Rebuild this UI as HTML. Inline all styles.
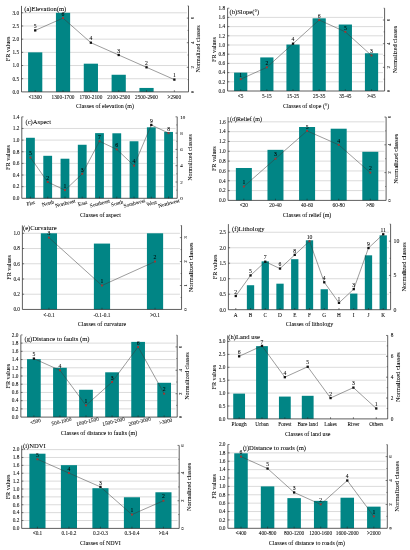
<!DOCTYPE html>
<html lang="en"><head><meta charset="utf-8"><title>FR values and normalized classes</title>
<style>
html,body{margin:0;padding:0;background:#fff;}
body{width:410px;height:550px;overflow:hidden;}
svg{display:block;filter:blur(0.35px);}
svg text{font-family:"Liberation Serif","Times New Roman",serif;fill:#000;stroke:#000;stroke-width:0.05px;}
</style></head><body>
<svg width="410" height="550" viewBox="0 0 410 550">
<rect width="410" height="550" fill="#fff"/>
<g id="chart-a">
<path d="M21.5 78.72H186.9M21.5 65.53H186.9M21.5 52.35H186.9M21.5 39.16H186.9M21.5 25.98H186.9M21.5 12.79H186.9" stroke="#c8c8c8" stroke-width="0.65" fill="none"/>
<rect x="28.1" y="52.35" width="14.2" height="39.55" fill="#018585"/>
<rect x="55.93" y="12.79" width="14.2" height="79.11" fill="#018585"/>
<rect x="83.77" y="63.68" width="14.2" height="28.22" fill="#018585"/>
<rect x="111.6" y="74.76" width="14.2" height="17.14" fill="#018585"/>
<rect x="139.43" y="87.94" width="14.2" height="3.96" fill="#018585"/>
<path d="M21.5 5.9V91.9H188.5V5.9" fill="none" stroke="#2a2a2a" stroke-width="0.75"/>
<text x="19.1" y="93.7" text-anchor="end" font-size="5.3">0.0</text>
<text x="19.1" y="80.52" text-anchor="end" font-size="5.3">0.5</text>
<text x="19.1" y="67.33" text-anchor="end" font-size="5.3">1.0</text>
<text x="19.1" y="54.15" text-anchor="end" font-size="5.3">1.5</text>
<text x="19.1" y="40.96" text-anchor="end" font-size="5.3">2.0</text>
<text x="19.1" y="27.78" text-anchor="end" font-size="5.3">2.5</text>
<text x="19.1" y="14.59" text-anchor="end" font-size="5.3">3.0</text>
<text transform="translate(193.6 91.9) rotate(-90)" text-anchor="middle" font-size="5.0">0</text>
<text transform="translate(193.6 67.3) rotate(-90)" text-anchor="middle" font-size="5.0">2</text>
<text transform="translate(193.6 42.7) rotate(-90)" text-anchor="middle" font-size="5.0">4</text>
<text transform="translate(193.6 18.1) rotate(-90)" text-anchor="middle" font-size="5.0">6</text>
<text x="35.2" y="98.5" text-anchor="middle" font-size="5.3">&lt;1300</text>
<text x="63.03" y="98.5" text-anchor="middle" font-size="5.3">1300-1700</text>
<text x="90.87" y="98.5" text-anchor="middle" font-size="5.3">1700-2100</text>
<text x="118.7" y="98.5" text-anchor="middle" font-size="5.3">2100-2500</text>
<text x="146.53" y="98.5" text-anchor="middle" font-size="5.3">2500-2900</text>
<text x="174.37" y="98.5" text-anchor="middle" font-size="5.3">&gt;2900</text>
<path d="M21.5 78.72h1.7M21.5 65.53h1.7M21.5 52.35h1.7M21.5 39.16h1.7M21.5 25.98h1.7M21.5 12.79h1.7M188.5 67.3h-1.7M188.5 42.7h-1.7M188.5 18.1h-1.7M35.2 91.9v-1.7M63.03 91.9v-1.7M90.87 91.9v-1.7M118.7 91.9v-1.7M146.53 91.9v-1.7M174.37 91.9v-1.7" stroke="#2a2a2a" stroke-width="0.6" fill="none"/>
<path d="M188.5 79.6h-1M188.5 55h-1M188.5 30.4h-1M188.5 5.8h-1" stroke="#2a2a2a" stroke-width="0.5" fill="none"/>
<polyline points="35.2,30.4 63.03,18.1 90.87,42.7 118.7,55 146.53,67.3 174.37,79.6" fill="none" stroke="#3a3a3a" stroke-width="0.5"/>
<rect x="34.05" y="29.25" width="2.3" height="2.3" fill="#111"/>
<text x="35.2" y="28.1" text-anchor="middle" font-size="5.7">5</text>
<rect x="62.08" y="17.15" width="1.9" height="1.9" fill="#a23632"/>
<text x="63.03" y="15.8" text-anchor="middle" font-size="5.7">6</text>
<rect x="89.72" y="41.55" width="2.3" height="2.3" fill="#111"/>
<text x="90.87" y="40.4" text-anchor="middle" font-size="5.7">4</text>
<rect x="117.55" y="53.85" width="2.3" height="2.3" fill="#111"/>
<text x="118.7" y="52.7" text-anchor="middle" font-size="5.7">3</text>
<rect x="145.38" y="66.15" width="2.3" height="2.3" fill="#111"/>
<text x="146.53" y="65" text-anchor="middle" font-size="5.7">2</text>
<rect x="173.22" y="78.45" width="2.3" height="2.3" fill="#111"/>
<text x="174.37" y="77.3" text-anchor="middle" font-size="5.7">1</text>
<text x="24.2" y="11" font-size="6.6">(a)Elevation(m)</text>
<text x="105" y="108.3" text-anchor="middle" font-size="5.98">Classes of elevation (m)</text>
<text transform="translate(9.5 48.9) rotate(-90)" text-anchor="middle" font-size="6.15">FR values</text>
<text transform="translate(200.1 48.9) rotate(-90)" text-anchor="middle" font-size="6.1">Normalized classes</text>
</g>
<g id="chart-b">
<path d="M227.6 81.8H383M227.6 72.6H383M227.6 63.4H383M227.6 54.2H383M227.6 45H383M227.6 35.8H383M227.6 26.6H383M227.6 17.4H383" stroke="#c8c8c8" stroke-width="0.65" fill="none"/>
<rect x="234.08" y="72.6" width="13.2" height="18.4" fill="#018585"/>
<rect x="260.25" y="57.42" width="13.2" height="33.58" fill="#018585"/>
<rect x="286.42" y="44.54" width="13.2" height="46.46" fill="#018585"/>
<rect x="312.58" y="18.32" width="13.2" height="72.68" fill="#018585"/>
<rect x="338.75" y="24.53" width="13.2" height="66.47" fill="#018585"/>
<rect x="364.92" y="53.28" width="13.2" height="37.72" fill="#018585"/>
<path d="M227.6 8.2V91H384.6V8.2" fill="none" stroke="#2a2a2a" stroke-width="0.75"/>
<text x="225.2" y="92.8" text-anchor="end" font-size="5.3">0.0</text>
<text x="225.2" y="83.6" text-anchor="end" font-size="5.3">0.2</text>
<text x="225.2" y="74.4" text-anchor="end" font-size="5.3">0.4</text>
<text x="225.2" y="65.2" text-anchor="end" font-size="5.3">0.6</text>
<text x="225.2" y="56" text-anchor="end" font-size="5.3">0.8</text>
<text x="225.2" y="46.8" text-anchor="end" font-size="5.3">1.0</text>
<text x="225.2" y="37.6" text-anchor="end" font-size="5.3">1.2</text>
<text x="225.2" y="28.4" text-anchor="end" font-size="5.3">1.4</text>
<text x="225.2" y="19.2" text-anchor="end" font-size="5.3">1.6</text>
<text x="225.2" y="10" text-anchor="end" font-size="5.3">1.8</text>
<text transform="translate(389.7 91) rotate(-90)" text-anchor="middle" font-size="5.0">0</text>
<text transform="translate(389.7 67.34) rotate(-90)" text-anchor="middle" font-size="5.0">2</text>
<text transform="translate(389.7 43.68) rotate(-90)" text-anchor="middle" font-size="5.0">4</text>
<text transform="translate(389.7 20.02) rotate(-90)" text-anchor="middle" font-size="5.0">6</text>
<text x="240.68" y="97.7" text-anchor="middle" font-size="5.3">&lt;5</text>
<text x="266.85" y="97.7" text-anchor="middle" font-size="5.3">5-15</text>
<text x="293.02" y="97.7" text-anchor="middle" font-size="5.3">15-25</text>
<text x="319.18" y="97.7" text-anchor="middle" font-size="5.3">25-35</text>
<text x="345.35" y="97.7" text-anchor="middle" font-size="5.3">35-45</text>
<text x="371.52" y="97.7" text-anchor="middle" font-size="5.3">&gt;45</text>
<path d="M227.6 81.8h1.7M227.6 72.6h1.7M227.6 63.4h1.7M227.6 54.2h1.7M227.6 45h1.7M227.6 35.8h1.7M227.6 26.6h1.7M227.6 17.4h1.7M227.6 8.2h1.7M384.6 67.34h-1.7M384.6 43.68h-1.7M384.6 20.02h-1.7M240.68 91v-1.7M266.85 91v-1.7M293.02 91v-1.7M319.18 91v-1.7M345.35 91v-1.7M371.52 91v-1.7" stroke="#2a2a2a" stroke-width="0.6" fill="none"/>
<path d="M384.6 79.17h-1M384.6 55.51h-1M384.6 31.85h-1M384.6 8.19h-1" stroke="#2a2a2a" stroke-width="0.5" fill="none"/>
<polyline points="240.68,79.17 266.85,67.34 293.02,43.68 319.18,20.02 345.35,31.85 371.52,55.51" fill="none" stroke="#3a3a3a" stroke-width="0.5"/>
<rect x="239.73" y="78.22" width="1.9" height="1.9" fill="#a23632"/>
<text x="240.68" y="76.87" text-anchor="middle" font-size="5.7">1</text>
<rect x="265.9" y="66.39" width="1.9" height="1.9" fill="#a23632"/>
<text x="266.85" y="65.04" text-anchor="middle" font-size="5.7">2</text>
<rect x="291.87" y="42.53" width="2.3" height="2.3" fill="#111"/>
<text x="293.02" y="41.38" text-anchor="middle" font-size="5.7">4</text>
<rect x="318.23" y="19.07" width="1.9" height="1.9" fill="#a23632"/>
<text x="319.18" y="17.72" text-anchor="middle" font-size="5.7">6</text>
<rect x="344.4" y="30.9" width="1.9" height="1.9" fill="#a23632"/>
<text x="345.35" y="29.55" text-anchor="middle" font-size="5.7">5</text>
<rect x="370.57" y="54.56" width="1.9" height="1.9" fill="#a23632"/>
<text x="371.52" y="53.21" text-anchor="middle" font-size="5.7">3</text>
<text x="229.5" y="13.8" font-size="6.6">(b)Slope(°)</text>
<text x="306.1" y="107.7" text-anchor="middle" font-size="5.98">Classes of slope (°)</text>
<text transform="translate(216 49.6) rotate(-90)" text-anchor="middle" font-size="6.15">FR values</text>
<text transform="translate(396.9 49.6) rotate(-90)" text-anchor="middle" font-size="6.13">Normalized classes</text>
</g>
<g id="chart-c">
<path d="M21.8 186.66H175.6M21.8 175.02H175.6M21.8 163.38H175.6M21.8 151.74H175.6M21.8 140.1H175.6M21.8 128.46H175.6" stroke="#c8c8c8" stroke-width="0.65" fill="none"/>
<rect x="26.03" y="137.77" width="8.8" height="60.53" fill="#018585"/>
<rect x="43.3" y="155.81" width="8.8" height="42.49" fill="#018585"/>
<rect x="60.57" y="158.72" width="8.8" height="39.58" fill="#018585"/>
<rect x="77.83" y="144.76" width="8.8" height="53.54" fill="#018585"/>
<rect x="95.1" y="133.12" width="8.8" height="65.18" fill="#018585"/>
<rect x="112.37" y="133.29" width="8.8" height="65.01" fill="#018585"/>
<rect x="129.63" y="141.26" width="8.8" height="57.04" fill="#018585"/>
<rect x="146.9" y="127.3" width="8.8" height="71" fill="#018585"/>
<rect x="164.17" y="131.95" width="8.8" height="66.35" fill="#018585"/>
<path d="M21.8 116.8V198.3H177.2V116.8" fill="none" stroke="#2a2a2a" stroke-width="0.75"/>
<text x="19.4" y="200.1" text-anchor="end" font-size="5.3">0.0</text>
<text x="19.4" y="188.46" text-anchor="end" font-size="5.3">0.2</text>
<text x="19.4" y="176.82" text-anchor="end" font-size="5.3">0.4</text>
<text x="19.4" y="165.18" text-anchor="end" font-size="5.3">0.6</text>
<text x="19.4" y="153.54" text-anchor="end" font-size="5.3">0.8</text>
<text x="19.4" y="141.9" text-anchor="end" font-size="5.3">1.0</text>
<text x="19.4" y="130.26" text-anchor="end" font-size="5.3">1.2</text>
<text x="19.4" y="118.62" text-anchor="end" font-size="5.3">1.4</text>
<text x="180.2" y="200" font-size="5.0">0</text>
<text x="180.2" y="183.7" font-size="5.0">2</text>
<text x="180.2" y="167.4" font-size="5.0">4</text>
<text x="180.2" y="151.1" font-size="5.0">6</text>
<text x="180.2" y="134.8" font-size="5.0">8</text>
<text x="180.2" y="118.5" font-size="5.0">10</text>
<text transform="translate(30.73 203.3) rotate(-15)" text-anchor="middle" dy="1.7" font-size="5.3">Flat</text>
<text transform="translate(48 203.3) rotate(-15)" text-anchor="middle" dy="1.7" font-size="5.3">North</text>
<text transform="translate(65.27 203.3) rotate(-15)" text-anchor="middle" dy="1.7" font-size="5.3">Northeast</text>
<text transform="translate(82.53 203.3) rotate(-15)" text-anchor="middle" dy="1.7" font-size="5.3">East</text>
<text transform="translate(99.8 203.3) rotate(-15)" text-anchor="middle" dy="1.7" font-size="5.3">Southeast</text>
<text transform="translate(117.07 203.3) rotate(-15)" text-anchor="middle" dy="1.7" font-size="5.3">South</text>
<text transform="translate(134.33 203.3) rotate(-15)" text-anchor="middle" dy="1.7" font-size="5.3">Southwest</text>
<text transform="translate(151.6 203.3) rotate(-15)" text-anchor="middle" dy="1.7" font-size="5.3">West</text>
<text transform="translate(168.87 203.3) rotate(-15)" text-anchor="middle" dy="1.7" font-size="5.3">Northwest</text>
<path d="M21.8 186.66h1.7M21.8 175.02h1.7M21.8 163.38h1.7M21.8 151.74h1.7M21.8 140.1h1.7M21.8 128.46h1.7M21.8 116.82h1.7M177.2 182h-1.7M177.2 165.7h-1.7M177.2 149.4h-1.7M177.2 133.1h-1.7M177.2 116.8h-1.7M30.43 198.3v-1.7M47.7 198.3v-1.7M64.97 198.3v-1.7M82.23 198.3v-1.7M99.5 198.3v-1.7M116.77 198.3v-1.7M134.03 198.3v-1.7M151.3 198.3v-1.7M168.57 198.3v-1.7" stroke="#2a2a2a" stroke-width="0.6" fill="none"/>
<path d="M177.2 190.15h-1M177.2 173.85h-1M177.2 157.55h-1M177.2 141.25h-1M177.2 124.95h-1" stroke="#2a2a2a" stroke-width="0.5" fill="none"/>
<polyline points="30.43,157.55 47.7,182 64.97,190.15 82.23,173.85 99.5,141.25 116.77,149.4 134.03,165.7 151.3,124.95 168.57,133.1" fill="none" stroke="#3a3a3a" stroke-width="0.5"/>
<rect x="29.48" y="156.6" width="1.9" height="1.9" fill="#a23632"/>
<text x="30.43" y="155.25" text-anchor="middle" font-size="5.7">5</text>
<rect x="46.75" y="181.05" width="1.9" height="1.9" fill="#a23632"/>
<text x="47.7" y="179.7" text-anchor="middle" font-size="5.7">2</text>
<rect x="64.02" y="189.2" width="1.9" height="1.9" fill="#a23632"/>
<text x="64.97" y="187.85" text-anchor="middle" font-size="5.7">1</text>
<rect x="81.28" y="172.9" width="1.9" height="1.9" fill="#a23632"/>
<text x="82.23" y="171.55" text-anchor="middle" font-size="5.7">3</text>
<rect x="98.55" y="140.3" width="1.9" height="1.9" fill="#a23632"/>
<text x="99.5" y="138.95" text-anchor="middle" font-size="5.7">7</text>
<rect x="115.82" y="148.45" width="1.9" height="1.9" fill="#a23632"/>
<text x="116.77" y="147.1" text-anchor="middle" font-size="5.7">6</text>
<rect x="133.08" y="164.75" width="1.9" height="1.9" fill="#a23632"/>
<text x="134.03" y="163.4" text-anchor="middle" font-size="5.7">4</text>
<rect x="150.15" y="123.8" width="2.3" height="2.3" fill="#111"/>
<text x="151.3" y="122.65" text-anchor="middle" font-size="5.7">9</text>
<rect x="167.62" y="132.15" width="1.9" height="1.9" fill="#a23632"/>
<text x="168.57" y="130.8" text-anchor="middle" font-size="5.7">8</text>
<text x="25.5" y="124.2" font-size="6.6">(c)Aspect</text>
<text x="100.5" y="216.5" text-anchor="middle" font-size="5.98">Classes of aspect</text>
<text transform="translate(10.2 157.55) rotate(-90)" text-anchor="middle" font-size="6.15">FR values</text>
<text transform="translate(191.7 157.55) rotate(-90)" text-anchor="middle" font-size="6.03">Normalized classes</text>
</g>
<g id="chart-d">
<path d="M228.05 190.58H384.5M228.05 180.76H384.5M228.05 170.94H384.5M228.05 161.12H384.5M228.05 151.3H384.5M228.05 141.48H384.5M228.05 131.66H384.5M228.05 121.84H384.5" stroke="#c8c8c8" stroke-width="0.65" fill="none"/>
<rect x="235.86" y="167.99" width="16" height="32.41" fill="#018585"/>
<rect x="267.47" y="149.83" width="16" height="50.57" fill="#018585"/>
<rect x="299.08" y="127" width="16" height="73.4" fill="#018585"/>
<rect x="330.69" y="128.71" width="16" height="71.69" fill="#018585"/>
<rect x="362.3" y="151.79" width="16" height="48.61" fill="#018585"/>
<path d="M228.05 117V200.4H386.1V117" fill="none" stroke="#2a2a2a" stroke-width="0.75"/>
<text x="225.65" y="202.2" text-anchor="end" font-size="5.3">0.0</text>
<text x="225.65" y="192.38" text-anchor="end" font-size="5.3">0.2</text>
<text x="225.65" y="182.56" text-anchor="end" font-size="5.3">0.4</text>
<text x="225.65" y="172.74" text-anchor="end" font-size="5.3">0.6</text>
<text x="225.65" y="162.92" text-anchor="end" font-size="5.3">0.8</text>
<text x="225.65" y="153.1" text-anchor="end" font-size="5.3">1.0</text>
<text x="225.65" y="143.28" text-anchor="end" font-size="5.3">1.2</text>
<text x="225.65" y="133.46" text-anchor="end" font-size="5.3">1.4</text>
<text x="225.65" y="123.64" text-anchor="end" font-size="5.3">1.6</text>
<text transform="translate(391.2 200.4) rotate(-90)" text-anchor="middle" font-size="5.0">0</text>
<text transform="translate(391.2 172.6) rotate(-90)" text-anchor="middle" font-size="5.0">2</text>
<text transform="translate(391.2 144.8) rotate(-90)" text-anchor="middle" font-size="5.0">4</text>
<text transform="translate(391.2 117) rotate(-90)" text-anchor="middle" font-size="5.0">6</text>
<text x="243.86" y="206.8" text-anchor="middle" font-size="5.3">&lt;20</text>
<text x="275.47" y="206.8" text-anchor="middle" font-size="5.3">20-40</text>
<text x="307.08" y="206.8" text-anchor="middle" font-size="5.3">40-60</text>
<text x="338.69" y="206.8" text-anchor="middle" font-size="5.3">60-80</text>
<text x="370.3" y="206.8" text-anchor="middle" font-size="5.3">&gt;80</text>
<path d="M228.05 190.58h1.7M228.05 180.76h1.7M228.05 170.94h1.7M228.05 161.12h1.7M228.05 151.3h1.7M228.05 141.48h1.7M228.05 131.66h1.7M228.05 121.84h1.7M386.1 172.6h-1.7M386.1 144.8h-1.7M386.1 117h-1.7M243.86 200.4v-1.7M275.47 200.4v-1.7M307.08 200.4v-1.7M338.69 200.4v-1.7M370.3 200.4v-1.7" stroke="#2a2a2a" stroke-width="0.6" fill="none"/>
<path d="M386.1 186.5h-1M386.1 158.7h-1M386.1 130.9h-1" stroke="#2a2a2a" stroke-width="0.5" fill="none"/>
<polyline points="243.86,186.5 275.47,158.7 307.08,130.9 338.69,144.8 370.3,172.6" fill="none" stroke="#3a3a3a" stroke-width="0.5"/>
<rect x="242.91" y="185.55" width="1.9" height="1.9" fill="#a23632"/>
<text x="243.86" y="184.2" text-anchor="middle" font-size="5.7">1</text>
<rect x="274.52" y="157.75" width="1.9" height="1.9" fill="#a23632"/>
<text x="275.47" y="156.4" text-anchor="middle" font-size="5.7">3</text>
<rect x="306.13" y="129.95" width="1.9" height="1.9" fill="#a23632"/>
<text x="307.08" y="128.6" text-anchor="middle" font-size="5.7">5</text>
<rect x="337.74" y="143.85" width="1.9" height="1.9" fill="#a23632"/>
<text x="338.69" y="142.5" text-anchor="middle" font-size="5.7">4</text>
<rect x="369.35" y="171.65" width="1.9" height="1.9" fill="#a23632"/>
<text x="370.3" y="170.3" text-anchor="middle" font-size="5.7">2</text>
<text x="230.1" y="121.1" font-size="6.0">(d)Relief (m)</text>
<text x="307.08" y="216.9" text-anchor="middle" font-size="5.98">Classes of relief (m)</text>
<text transform="translate(216 158.7) rotate(-90)" text-anchor="middle" font-size="6.15">FR values</text>
<text transform="translate(398.4 158.7) rotate(-90)" text-anchor="middle" font-size="6.45">Normalized classes</text>
</g>
<g id="chart-e">
<path d="M22.4 294.22H179.95M22.4 278.99H179.95M22.4 263.76H179.95M22.4 248.53H179.95M22.4 233.3H179.95" stroke="#c8c8c8" stroke-width="0.65" fill="none"/>
<rect x="40.82" y="233.3" width="16.2" height="76.15" fill="#018585"/>
<rect x="93.88" y="243.58" width="16.2" height="65.87" fill="#018585"/>
<rect x="146.93" y="233.3" width="16.2" height="76.15" fill="#018585"/>
<path d="M22.4 225.4V309.45H181.55V225.4" fill="none" stroke="#2a2a2a" stroke-width="0.75"/>
<text x="20" y="311.25" text-anchor="end" font-size="5.3">0.0</text>
<text x="20" y="296.02" text-anchor="end" font-size="5.3">0.2</text>
<text x="20" y="280.79" text-anchor="end" font-size="5.3">0.4</text>
<text x="20" y="265.56" text-anchor="end" font-size="5.3">0.6</text>
<text x="20" y="250.33" text-anchor="end" font-size="5.3">0.8</text>
<text x="20" y="235.1" text-anchor="end" font-size="5.3">1.0</text>
<text transform="translate(186.65 309.45) rotate(-90)" text-anchor="middle" font-size="5.0">0</text>
<text transform="translate(186.65 285.5) rotate(-90)" text-anchor="middle" font-size="5.0">1</text>
<text transform="translate(186.65 261.55) rotate(-90)" text-anchor="middle" font-size="5.0">2</text>
<text transform="translate(186.65 237.6) rotate(-90)" text-anchor="middle" font-size="5.0">3</text>
<text x="48.92" y="316.6" text-anchor="middle" font-size="5.3">&lt;-0.1</text>
<text x="101.97" y="316.6" text-anchor="middle" font-size="5.3">-0.1-0.1</text>
<text x="155.03" y="316.6" text-anchor="middle" font-size="5.3">&gt;0.1</text>
<path d="M22.4 294.22h1.7M22.4 278.99h1.7M22.4 263.76h1.7M22.4 248.53h1.7M22.4 233.3h1.7M181.55 285.5h-1.7M181.55 261.55h-1.7M181.55 237.6h-1.7M48.92 309.45v-1.7M101.97 309.45v-1.7M155.03 309.45v-1.7" stroke="#2a2a2a" stroke-width="0.6" fill="none"/>
<path d="M181.55 297.47h-1M181.55 273.52h-1M181.55 249.57h-1M181.55 225.62h-1" stroke="#2a2a2a" stroke-width="0.5" fill="none"/>
<polyline points="48.92,237.6 101.97,285.5 155.03,261.55" fill="none" stroke="#3a3a3a" stroke-width="0.5"/>
<rect x="47.97" y="236.65" width="1.9" height="1.9" fill="#a23632"/>
<text x="48.92" y="235.3" text-anchor="middle" font-size="5.7">3</text>
<rect x="101.02" y="284.55" width="1.9" height="1.9" fill="#a23632"/>
<text x="101.97" y="283.2" text-anchor="middle" font-size="5.7">1</text>
<rect x="154.08" y="260.6" width="1.9" height="1.9" fill="#a23632"/>
<text x="155.03" y="259.25" text-anchor="middle" font-size="5.7">2</text>
<text x="23" y="229.9" font-size="6.6">(e)Curvature</text>
<text x="101.98" y="325.7" text-anchor="middle" font-size="5.98">Classes of curvature</text>
<text transform="translate(10.5 267.43) rotate(-90)" text-anchor="middle" font-size="6.15">FR values</text>
<text transform="translate(192.6 267.43) rotate(-90)" text-anchor="middle" font-size="6.45">Normalized classes</text>
</g>
<g id="chart-f">
<path d="M228.4 294.21H389M228.4 278.72H389M228.4 263.23H389M228.4 247.74H389M228.4 232.25H389" stroke="#c8c8c8" stroke-width="0.65" fill="none"/>
<rect x="246.87" y="285.23" width="7.3" height="24.47" fill="#018585"/>
<rect x="261.61" y="261.37" width="7.3" height="48.33" fill="#018585"/>
<rect x="276.36" y="283.68" width="7.3" height="26.02" fill="#018585"/>
<rect x="291.1" y="259.2" width="7.3" height="50.5" fill="#018585"/>
<rect x="305.85" y="240.3" width="7.3" height="69.4" fill="#018585"/>
<rect x="320.6" y="289.25" width="7.3" height="20.45" fill="#018585"/>
<rect x="350.09" y="293.59" width="7.3" height="16.11" fill="#018585"/>
<rect x="364.83" y="255.33" width="7.3" height="54.37" fill="#018585"/>
<rect x="379.58" y="235.35" width="7.3" height="74.35" fill="#018585"/>
<path d="M228.4 224.1V309.7H390.6V224.1" fill="none" stroke="#2a2a2a" stroke-width="0.75"/>
<text x="226" y="311.5" text-anchor="end" font-size="5.3">0.0</text>
<text x="226" y="296.01" text-anchor="end" font-size="5.3">0.5</text>
<text x="226" y="280.52" text-anchor="end" font-size="5.3">1.0</text>
<text x="226" y="265.03" text-anchor="end" font-size="5.3">1.5</text>
<text x="226" y="249.54" text-anchor="end" font-size="5.3">2.0</text>
<text x="226" y="234.05" text-anchor="end" font-size="5.3">2.5</text>
<text x="393.6" y="311.67" font-size="5.8">0</text>
<text x="393.6" y="277.4" font-size="5.8">5</text>
<text x="393.6" y="243.12" font-size="5.8">10</text>
<text x="235.77" y="316.6" text-anchor="middle" font-size="5.3">A</text>
<text x="250.52" y="316.6" text-anchor="middle" font-size="5.3">B</text>
<text x="265.26" y="316.6" text-anchor="middle" font-size="5.3">C</text>
<text x="280.01" y="316.6" text-anchor="middle" font-size="5.3">D</text>
<text x="294.75" y="316.6" text-anchor="middle" font-size="5.3">E</text>
<text x="309.5" y="316.6" text-anchor="middle" font-size="5.3">F</text>
<text x="324.25" y="316.6" text-anchor="middle" font-size="5.3">G</text>
<text x="338.99" y="316.6" text-anchor="middle" font-size="5.3">H</text>
<text x="353.74" y="316.6" text-anchor="middle" font-size="5.3">I</text>
<text x="368.48" y="316.6" text-anchor="middle" font-size="5.3">J</text>
<text x="383.23" y="316.6" text-anchor="middle" font-size="5.3">K</text>
<path d="M228.4 294.21h1.7M228.4 278.72h1.7M228.4 263.23h1.7M228.4 247.74h1.7M228.4 232.25h1.7M390.6 275.42h-1.7M390.6 241.15h-1.7M235.77 309.7v-1.7M250.52 309.7v-1.7M265.26 309.7v-1.7M280.01 309.7v-1.7M294.75 309.7v-1.7M309.5 309.7v-1.7M324.25 309.7v-1.7M338.99 309.7v-1.7M353.74 309.7v-1.7M368.48 309.7v-1.7M383.23 309.7v-1.7" stroke="#2a2a2a" stroke-width="0.6" fill="none"/>
<path d="M390.6 292.56h-1M390.6 258.29h-1M390.6 224.01h-1" stroke="#2a2a2a" stroke-width="0.5" fill="none"/>
<polyline points="235.77,295.99 250.52,275.42 265.26,261.71 280.01,268.57 294.75,254.86 309.5,241.15 324.25,282.28 338.99,302.84 353.74,289.13 368.48,248 383.23,234.29" fill="none" stroke="#3a3a3a" stroke-width="0.5"/>
<rect x="234.62" y="294.84" width="2.3" height="2.3" fill="#111"/>
<text x="235.77" y="293.69" text-anchor="middle" font-size="5.7">2</text>
<rect x="249.37" y="274.27" width="2.3" height="2.3" fill="#111"/>
<text x="250.52" y="273.12" text-anchor="middle" font-size="5.7">5</text>
<rect x="264.11" y="260.56" width="2.3" height="2.3" fill="#111"/>
<text x="265.26" y="259.41" text-anchor="middle" font-size="5.7">7</text>
<rect x="278.86" y="267.42" width="2.3" height="2.3" fill="#111"/>
<text x="280.01" y="266.27" text-anchor="middle" font-size="5.7">6</text>
<rect x="293.6" y="253.71" width="2.3" height="2.3" fill="#111"/>
<text x="294.75" y="252.56" text-anchor="middle" font-size="5.7">8</text>
<rect x="308.55" y="240.2" width="1.9" height="1.9" fill="#a23632"/>
<text x="309.5" y="238.85" text-anchor="middle" font-size="5.7">10</text>
<rect x="323.1" y="281.13" width="2.3" height="2.3" fill="#111"/>
<text x="324.25" y="279.98" text-anchor="middle" font-size="5.7">4</text>
<rect x="337.84" y="301.69" width="2.3" height="2.3" fill="#111"/>
<text x="338.99" y="300.54" text-anchor="middle" font-size="5.7">1</text>
<rect x="352.59" y="287.99" width="2.3" height="2.3" fill="#111"/>
<text x="353.74" y="286.83" text-anchor="middle" font-size="5.7">3</text>
<rect x="367.33" y="246.85" width="2.3" height="2.3" fill="#111"/>
<text x="368.48" y="245.7" text-anchor="middle" font-size="5.7">9</text>
<rect x="382.08" y="233.14" width="2.3" height="2.3" fill="#111"/>
<text x="383.23" y="231.99" text-anchor="middle" font-size="5.7">11</text>
<text x="232" y="230.8" font-size="6.6">(f)Lithology</text>
<text x="309.5" y="326.3" text-anchor="middle" font-size="5.98">Classes of  lithology</text>
<text transform="translate(217 266.9) rotate(-90)" text-anchor="middle" font-size="6.15">FR values</text>
<text transform="translate(406.1 266.9) rotate(-90)" text-anchor="middle" font-size="6.35">Normalized classes</text>
</g>
<g id="chart-g">
<path d="M20.85 408.88H175.6M20.85 400.66H175.6M20.85 392.44H175.6M20.85 384.22H175.6M20.85 376H175.6M20.85 367.78H175.6M20.85 359.56H175.6M20.85 351.34H175.6M20.85 343.12H175.6" stroke="#c8c8c8" stroke-width="0.65" fill="none"/>
<rect x="27.03" y="359.15" width="13.7" height="57.95" fill="#018585"/>
<rect x="53.09" y="367.78" width="13.7" height="49.32" fill="#018585"/>
<rect x="79.15" y="389.77" width="13.7" height="27.33" fill="#018585"/>
<rect x="105.2" y="372.3" width="13.7" height="44.8" fill="#018585"/>
<rect x="131.26" y="341.89" width="13.7" height="75.21" fill="#018585"/>
<rect x="157.32" y="382.78" width="13.7" height="34.32" fill="#018585"/>
<path d="M20.85 335.2V417.1H177.2V335.2" fill="none" stroke="#2a2a2a" stroke-width="0.75"/>
<text x="18.45" y="418.9" text-anchor="end" font-size="5.3">0.0</text>
<text x="18.45" y="410.68" text-anchor="end" font-size="5.3">0.2</text>
<text x="18.45" y="402.46" text-anchor="end" font-size="5.3">0.4</text>
<text x="18.45" y="394.24" text-anchor="end" font-size="5.3">0.6</text>
<text x="18.45" y="386.02" text-anchor="end" font-size="5.3">0.8</text>
<text x="18.45" y="377.8" text-anchor="end" font-size="5.3">1.0</text>
<text x="18.45" y="369.58" text-anchor="end" font-size="5.3">1.2</text>
<text x="18.45" y="361.36" text-anchor="end" font-size="5.3">1.4</text>
<text x="18.45" y="353.14" text-anchor="end" font-size="5.3">1.6</text>
<text x="18.45" y="344.92" text-anchor="end" font-size="5.3">1.8</text>
<text x="18.45" y="336.7" text-anchor="end" font-size="5.3">2.0</text>
<text transform="translate(182.3 417.1) rotate(-90)" text-anchor="middle" font-size="5.0">0</text>
<text transform="translate(182.3 393.7) rotate(-90)" text-anchor="middle" font-size="5.0">2</text>
<text transform="translate(182.3 370.3) rotate(-90)" text-anchor="middle" font-size="5.0">4</text>
<text transform="translate(182.3 346.9) rotate(-90)" text-anchor="middle" font-size="5.0">6</text>
<text transform="translate(35.38 421.5) rotate(-14)" text-anchor="middle" dy="1.7" font-size="5.3">&lt;500</text>
<text transform="translate(61.44 421.5) rotate(-14)" text-anchor="middle" dy="1.7" font-size="5.3">500-1000</text>
<text transform="translate(87.5 421.5) rotate(-14)" text-anchor="middle" dy="1.7" font-size="5.3">1000-1500</text>
<text transform="translate(113.55 421.5) rotate(-14)" text-anchor="middle" dy="1.7" font-size="5.3">1500-2000</text>
<text transform="translate(139.61 421.5) rotate(-14)" text-anchor="middle" dy="1.7" font-size="5.3">2000-3000</text>
<text transform="translate(165.67 421.5) rotate(-14)" text-anchor="middle" dy="1.7" font-size="5.3">&gt;3000</text>
<path d="M20.85 408.88h1.7M20.85 400.66h1.7M20.85 392.44h1.7M20.85 384.22h1.7M20.85 376h1.7M20.85 367.78h1.7M20.85 359.56h1.7M20.85 351.34h1.7M20.85 343.12h1.7M20.85 334.9h1.7M177.2 393.7h-1.7M177.2 370.3h-1.7M177.2 346.9h-1.7M33.88 417.1v-1.7M59.94 417.1v-1.7M86 417.1v-1.7M112.05 417.1v-1.7M138.11 417.1v-1.7M164.17 417.1v-1.7" stroke="#2a2a2a" stroke-width="0.6" fill="none"/>
<path d="M177.2 405.4h-1M177.2 382h-1M177.2 358.6h-1M177.2 335.2h-1" stroke="#2a2a2a" stroke-width="0.5" fill="none"/>
<polyline points="33.88,358.6 59.94,370.3 86,405.4 112.05,382 138.11,346.9 164.17,393.7" fill="none" stroke="#3a3a3a" stroke-width="0.5"/>
<rect x="32.73" y="357.45" width="2.3" height="2.3" fill="#111"/>
<text x="33.88" y="356.3" text-anchor="middle" font-size="5.7">5</text>
<rect x="58.99" y="369.35" width="1.9" height="1.9" fill="#a23632"/>
<text x="59.94" y="368" text-anchor="middle" font-size="5.7">4</text>
<rect x="85.05" y="404.45" width="1.9" height="1.9" fill="#a23632"/>
<text x="86" y="403.1" text-anchor="middle" font-size="5.7">1</text>
<rect x="111.1" y="381.05" width="1.9" height="1.9" fill="#a23632"/>
<text x="112.05" y="379.7" text-anchor="middle" font-size="5.7">3</text>
<rect x="137.16" y="345.95" width="1.9" height="1.9" fill="#a23632"/>
<text x="138.11" y="344.6" text-anchor="middle" font-size="5.7">6</text>
<rect x="163.22" y="392.75" width="1.9" height="1.9" fill="#a23632"/>
<text x="164.17" y="391.4" text-anchor="middle" font-size="5.7">2</text>
<text x="24.5" y="341.1" font-size="6.6">(g)Distance to faults (m)</text>
<text x="99.02" y="435.3" text-anchor="middle" font-size="5.98">Classes of distance to faults (m)</text>
<text transform="translate(9.9 376.15) rotate(-90)" text-anchor="middle" font-size="6.15">FR values</text>
<text transform="translate(188.7 376.15) rotate(-90)" text-anchor="middle" font-size="6.13">Normalized classes</text>
</g>
<g id="chart-h">
<path d="M227.7 406H386.1M227.7 393.1H386.1M227.7 380.2H386.1M227.7 367.3H386.1M227.7 354.4H386.1M227.7 341.5H386.1" stroke="#c8c8c8" stroke-width="0.65" fill="none"/>
<rect x="233.23" y="393.62" width="11.8" height="25.28" fill="#018585"/>
<rect x="256.09" y="346.14" width="11.8" height="72.76" fill="#018585"/>
<rect x="278.94" y="396.58" width="11.8" height="22.32" fill="#018585"/>
<rect x="301.8" y="395.81" width="11.8" height="23.09" fill="#018585"/>
<path d="M227.7 335.4V418.9H387.7V335.4" fill="none" stroke="#2a2a2a" stroke-width="0.75"/>
<text x="225.3" y="420.7" text-anchor="end" font-size="5.3">0.0</text>
<text x="225.3" y="407.8" text-anchor="end" font-size="5.3">0.5</text>
<text x="225.3" y="394.9" text-anchor="end" font-size="5.3">1.0</text>
<text x="225.3" y="382" text-anchor="end" font-size="5.3">1.5</text>
<text x="225.3" y="369.1" text-anchor="end" font-size="5.3">2.0</text>
<text x="225.3" y="356.2" text-anchor="end" font-size="5.3">2.5</text>
<text x="225.3" y="343.3" text-anchor="end" font-size="5.3">3.0</text>
<text x="390.7" y="420.7" font-size="5.3">0</text>
<text x="390.7" y="399.84" font-size="5.3">2</text>
<text x="390.7" y="378.98" font-size="5.3">4</text>
<text x="390.7" y="358.12" font-size="5.3">6</text>
<text x="390.7" y="337.26" font-size="5.3">8</text>
<text x="239.13" y="425.9" text-anchor="middle" font-size="5.3">Plough</text>
<text x="261.99" y="425.9" text-anchor="middle" font-size="5.3">Urban</text>
<text x="284.84" y="425.9" text-anchor="middle" font-size="5.3">Forest</text>
<text x="307.7" y="425.9" text-anchor="middle" font-size="5.3">Bare land</text>
<text x="330.56" y="425.9" text-anchor="middle" font-size="5.3">Lakes</text>
<text x="353.41" y="425.9" text-anchor="middle" font-size="5.3">River</text>
<text x="376.27" y="425.9" text-anchor="middle" font-size="5.3">Others</text>
<path d="M227.7 406h1.7M227.7 393.1h1.7M227.7 380.2h1.7M227.7 367.3h1.7M227.7 354.4h1.7M227.7 341.5h1.7M387.7 398.04h-1.7M387.7 377.18h-1.7M387.7 356.32h-1.7M387.7 335.46h-1.7M239.13 418.9v-1.7M261.99 418.9v-1.7M284.84 418.9v-1.7M307.7 418.9v-1.7M330.56 418.9v-1.7M353.41 418.9v-1.7M376.27 418.9v-1.7" stroke="#2a2a2a" stroke-width="0.6" fill="none"/>
<path d="M387.7 408.47h-1M387.7 387.61h-1M387.7 366.75h-1M387.7 345.89h-1" stroke="#2a2a2a" stroke-width="0.5" fill="none"/>
<polyline points="239.13,356.32 261.99,345.89 284.84,377.18 307.7,366.75 330.56,398.04 353.41,387.61 376.27,408.47" fill="none" stroke="#3a3a3a" stroke-width="0.5"/>
<rect x="237.98" y="355.17" width="2.3" height="2.3" fill="#111"/>
<text x="239.13" y="354.02" text-anchor="middle" font-size="5.7">6</text>
<rect x="260.84" y="344.74" width="2.3" height="2.3" fill="#111"/>
<text x="261.99" y="343.59" text-anchor="middle" font-size="5.7">7</text>
<rect x="283.69" y="376.03" width="2.3" height="2.3" fill="#111"/>
<text x="284.84" y="374.88" text-anchor="middle" font-size="5.7">4</text>
<rect x="306.55" y="365.6" width="2.3" height="2.3" fill="#111"/>
<text x="307.7" y="364.45" text-anchor="middle" font-size="5.7">5</text>
<rect x="329.41" y="396.89" width="2.3" height="2.3" fill="#111"/>
<text x="330.56" y="395.74" text-anchor="middle" font-size="5.7">2</text>
<rect x="352.26" y="386.46" width="2.3" height="2.3" fill="#111"/>
<text x="353.41" y="385.31" text-anchor="middle" font-size="5.7">3</text>
<rect x="375.12" y="407.32" width="2.3" height="2.3" fill="#111"/>
<text x="376.27" y="406.17" text-anchor="middle" font-size="5.7">1</text>
<text x="228.3" y="339.3" font-size="6.6">(h)Land use</text>
<text x="307.7" y="435.6" text-anchor="middle" font-size="5.98">Classes of  land use</text>
<text transform="translate(216 377.15) rotate(-90)" text-anchor="middle" font-size="6.15">FR values</text>
<text transform="translate(399.7 377.15) rotate(-90)" text-anchor="middle" font-size="6.45">Normalized classes</text>
</g>
<g id="chart-i">
<path d="M21.7 520.52H177.6M21.7 512.64H177.6M21.7 504.76H177.6M21.7 496.88H177.6M21.7 489H177.6M21.7 481.12H177.6M21.7 473.24H177.6M21.7 465.36H177.6M21.7 457.48H177.6M21.7 449.6H177.6" stroke="#c8c8c8" stroke-width="0.65" fill="none"/>
<rect x="29.4" y="453.7" width="16.1" height="74.7" fill="#018585"/>
<rect x="60.9" y="465.16" width="16.1" height="63.24" fill="#018585"/>
<rect x="92.4" y="488.21" width="16.1" height="40.19" fill="#018585"/>
<rect x="123.9" y="497.27" width="16.1" height="31.13" fill="#018585"/>
<rect x="155.4" y="492.27" width="16.1" height="36.13" fill="#018585"/>
<path d="M21.7 445.5V528.4H179.2V445.5" fill="none" stroke="#2a2a2a" stroke-width="0.75"/>
<text x="19.3" y="530.2" text-anchor="end" font-size="5.3">0.0</text>
<text x="19.3" y="522.32" text-anchor="end" font-size="5.3">0.2</text>
<text x="19.3" y="514.44" text-anchor="end" font-size="5.3">0.4</text>
<text x="19.3" y="506.56" text-anchor="end" font-size="5.3">0.6</text>
<text x="19.3" y="498.68" text-anchor="end" font-size="5.3">0.8</text>
<text x="19.3" y="490.8" text-anchor="end" font-size="5.3">1.0</text>
<text x="19.3" y="482.92" text-anchor="end" font-size="5.3">1.2</text>
<text x="19.3" y="475.04" text-anchor="end" font-size="5.3">1.4</text>
<text x="19.3" y="467.16" text-anchor="end" font-size="5.3">1.6</text>
<text x="19.3" y="459.28" text-anchor="end" font-size="5.3">1.8</text>
<text x="19.3" y="451.4" text-anchor="end" font-size="5.3">2.0</text>
<text transform="translate(184.3 528.4) rotate(-90)" text-anchor="middle" font-size="5.0">0</text>
<text transform="translate(184.3 500.74) rotate(-90)" text-anchor="middle" font-size="5.0">2</text>
<text transform="translate(184.3 473.08) rotate(-90)" text-anchor="middle" font-size="5.0">4</text>
<text transform="translate(184.3 445.42) rotate(-90)" text-anchor="middle" font-size="5.0">6</text>
<text x="37.45" y="535.45" text-anchor="middle" font-size="5.3">&lt;0.1</text>
<text x="68.95" y="535.45" text-anchor="middle" font-size="5.3">0.1-0.2</text>
<text x="100.45" y="535.45" text-anchor="middle" font-size="5.3">0.2-0.3</text>
<text x="131.95" y="535.45" text-anchor="middle" font-size="5.3">0.3-0.4</text>
<text x="163.45" y="535.45" text-anchor="middle" font-size="5.3">&gt;0.4</text>
<path d="M21.7 520.52h1.7M21.7 512.64h1.7M21.7 504.76h1.7M21.7 496.88h1.7M21.7 489h1.7M21.7 481.12h1.7M21.7 473.24h1.7M21.7 465.36h1.7M21.7 457.48h1.7M21.7 449.6h1.7M179.2 500.74h-1.7M179.2 473.08h-1.7M179.2 445.42h-1.7M37.45 528.4v-1.7M68.95 528.4v-1.7M100.45 528.4v-1.7M131.95 528.4v-1.7M163.45 528.4v-1.7" stroke="#2a2a2a" stroke-width="0.6" fill="none"/>
<path d="M179.2 514.57h-1M179.2 486.91h-1M179.2 459.25h-1" stroke="#2a2a2a" stroke-width="0.5" fill="none"/>
<polyline points="37.45,459.25 68.95,473.08 100.45,486.91 131.95,514.57 163.45,500.74" fill="none" stroke="#3a3a3a" stroke-width="0.5"/>
<rect x="36.5" y="458.3" width="1.9" height="1.9" fill="#a23632"/>
<text x="37.45" y="456.95" text-anchor="middle" font-size="5.7">5</text>
<rect x="68" y="472.13" width="1.9" height="1.9" fill="#a23632"/>
<text x="68.95" y="470.78" text-anchor="middle" font-size="5.7">4</text>
<rect x="99.3" y="485.76" width="2.3" height="2.3" fill="#111"/>
<text x="100.45" y="484.61" text-anchor="middle" font-size="5.7">3</text>
<rect x="131" y="513.62" width="1.9" height="1.9" fill="#a23632"/>
<text x="131.95" y="512.27" text-anchor="middle" font-size="5.7">1</text>
<rect x="162.5" y="499.79" width="1.9" height="1.9" fill="#a23632"/>
<text x="163.45" y="498.44" text-anchor="middle" font-size="5.7">2</text>
<text x="23" y="447.5" font-size="6.6">(i)NDVI</text>
<text x="100.45" y="544.6" text-anchor="middle" font-size="5.98">Classes of NDVI</text>
<text transform="translate(10.2 486.95) rotate(-90)" text-anchor="middle" font-size="6.15">FR values</text>
<text transform="translate(191.4 486.95) rotate(-90)" text-anchor="middle" font-size="6.23">Normalized classes</text>
</g>
<g id="chart-j">
<path d="M227.9 519.92H385.7M227.9 511.54H385.7M227.9 503.16H385.7M227.9 494.78H385.7M227.9 486.4H385.7M227.9 478.02H385.7M227.9 469.64H385.7M227.9 461.26H385.7M227.9 452.88H385.7" stroke="#c8c8c8" stroke-width="0.65" fill="none"/>
<rect x="234.25" y="453.3" width="13.5" height="75" fill="#018585"/>
<rect x="260.82" y="486.4" width="13.5" height="41.9" fill="#018585"/>
<rect x="287.38" y="498.13" width="13.5" height="30.17" fill="#018585"/>
<rect x="313.95" y="500.86" width="13.5" height="27.44" fill="#018585"/>
<rect x="340.52" y="497.71" width="13.5" height="30.59" fill="#018585"/>
<rect x="367.08" y="506.64" width="13.5" height="21.66" fill="#018585"/>
<path d="M227.9 444.5V528.3H387.3V444.5" fill="none" stroke="#2a2a2a" stroke-width="0.75"/>
<text x="225.5" y="530.1" text-anchor="end" font-size="5.3">0.0</text>
<text x="225.5" y="521.72" text-anchor="end" font-size="5.3">0.2</text>
<text x="225.5" y="513.34" text-anchor="end" font-size="5.3">0.4</text>
<text x="225.5" y="504.96" text-anchor="end" font-size="5.3">0.6</text>
<text x="225.5" y="496.58" text-anchor="end" font-size="5.3">0.8</text>
<text x="225.5" y="488.2" text-anchor="end" font-size="5.3">1.0</text>
<text x="225.5" y="479.82" text-anchor="end" font-size="5.3">1.2</text>
<text x="225.5" y="471.44" text-anchor="end" font-size="5.3">1.4</text>
<text x="225.5" y="463.06" text-anchor="end" font-size="5.3">1.6</text>
<text x="225.5" y="454.68" text-anchor="end" font-size="5.3">1.8</text>
<text x="225.5" y="446.3" text-anchor="end" font-size="5.3">2.0</text>
<text transform="translate(392.4 528.3) rotate(-90)" text-anchor="middle" font-size="5.0">0</text>
<text transform="translate(392.4 504.4) rotate(-90)" text-anchor="middle" font-size="5.0">2</text>
<text transform="translate(392.4 480.5) rotate(-90)" text-anchor="middle" font-size="5.0">4</text>
<text transform="translate(392.4 456.6) rotate(-90)" text-anchor="middle" font-size="5.0">6</text>
<text x="241" y="535.35" text-anchor="middle" font-size="5.3">&lt;400</text>
<text x="267.57" y="535.35" text-anchor="middle" font-size="5.3">400-800</text>
<text x="294.13" y="535.35" text-anchor="middle" font-size="5.3">800-1200</text>
<text x="320.7" y="535.35" text-anchor="middle" font-size="5.3">1200-1600</text>
<text x="347.27" y="535.35" text-anchor="middle" font-size="5.3">1600-2000</text>
<text x="373.83" y="535.35" text-anchor="middle" font-size="5.3">&gt;2000</text>
<path d="M227.9 519.92h1.7M227.9 511.54h1.7M227.9 503.16h1.7M227.9 494.78h1.7M227.9 486.4h1.7M227.9 478.02h1.7M227.9 469.64h1.7M227.9 461.26h1.7M227.9 452.88h1.7M227.9 444.5h1.7M387.3 504.4h-1.7M387.3 480.5h-1.7M387.3 456.6h-1.7M241 528.3v-1.7M267.57 528.3v-1.7M294.13 528.3v-1.7M320.7 528.3v-1.7M347.27 528.3v-1.7M373.83 528.3v-1.7" stroke="#2a2a2a" stroke-width="0.6" fill="none"/>
<path d="M387.3 516.35h-1M387.3 492.45h-1M387.3 468.55h-1M387.3 444.65h-1" stroke="#2a2a2a" stroke-width="0.5" fill="none"/>
<polyline points="241,456.6 267.57,468.55 294.13,492.45 320.7,504.4 347.27,480.5 373.83,516.35" fill="none" stroke="#3a3a3a" stroke-width="0.5"/>
<rect x="240.05" y="455.65" width="1.9" height="1.9" fill="#a23632"/>
<text x="241" y="454.3" text-anchor="middle" font-size="5.7">6</text>
<rect x="266.42" y="467.4" width="2.3" height="2.3" fill="#111"/>
<text x="267.57" y="466.25" text-anchor="middle" font-size="5.7">5</text>
<rect x="292.98" y="491.3" width="2.3" height="2.3" fill="#111"/>
<text x="294.13" y="490.15" text-anchor="middle" font-size="5.7">3</text>
<rect x="319.75" y="503.45" width="1.9" height="1.9" fill="#a23632"/>
<text x="320.7" y="502.1" text-anchor="middle" font-size="5.7">2</text>
<rect x="346.12" y="479.35" width="2.3" height="2.3" fill="#111"/>
<text x="347.27" y="478.2" text-anchor="middle" font-size="5.7">4</text>
<rect x="372.88" y="515.4" width="1.9" height="1.9" fill="#a23632"/>
<text x="373.83" y="514.05" text-anchor="middle" font-size="5.7">1</text>
<text x="242.9" y="449.9" font-size="6.6">(j)Distance to roads (m)</text>
<text x="306.9" y="544.8" text-anchor="middle" font-size="5.98">Classes of distance to roads (m)</text>
<text transform="translate(216.3 486.4) rotate(-90)" text-anchor="middle" font-size="6.15">FR values</text>
<text transform="translate(399.2 486.4) rotate(-90)" text-anchor="middle" font-size="6.56">Normalized classes</text>
</g>
</svg>
</body></html>
